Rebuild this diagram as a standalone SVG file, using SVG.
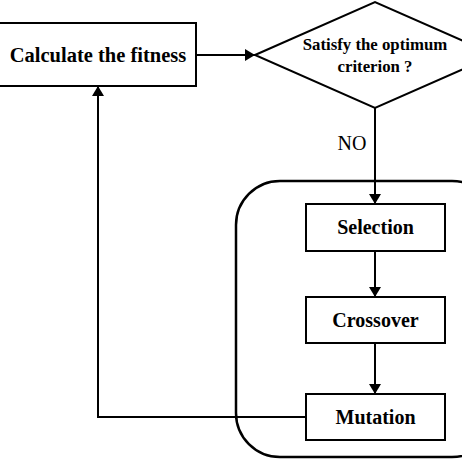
<svg xmlns="http://www.w3.org/2000/svg" width="462" height="462" viewBox="0 0 462 462">
<style>
.box{fill:#fff;stroke:#000;stroke-width:2}
.lbl{font-family:"Liberation Serif",serif;font-weight:bold;fill:#000;text-anchor:middle}
.con{fill:none;stroke:#000;stroke-width:2}
</style>
<defs>
<marker id="ah" markerWidth="10" markerHeight="12" refX="10" refY="6" orient="auto" markerUnits="userSpaceOnUse" viewBox="0 0 10 12">
<path d="M0,0 L10,6 L0,12 z" fill="#000"/>
</marker>
</defs>
<rect width="462" height="462" fill="#fff"/>
<g id="group-box">
<rect x="236" y="181" width="260" height="276" rx="44" ry="44" fill="none" stroke="#000" stroke-width="2.5"/>
</g>
<g id="connectors">
<line class="con" x1="196" y1="55" x2="255" y2="55" marker-end="url(#ah)"/>
<line class="con" x1="375" y1="108" x2="375" y2="204" marker-end="url(#ah)"/>
<line class="con" x1="375" y1="251" x2="375" y2="297" marker-end="url(#ah)"/>
<line class="con" x1="375" y1="343" x2="375" y2="394" marker-end="url(#ah)"/>
<polyline class="con" points="306,417 98,417 98,86" marker-end="url(#ah)"/>
<text x="352" y="150" font-family="Liberation Serif,serif" font-size="20" text-anchor="middle" fill="#000">NO</text>
</g>
<g id="calc">
<rect class="box" x="-5" y="23" width="201" height="63"/>
<text class="lbl" x="98" y="62" font-size="20.5">Calculate the fitness</text>
</g>
<g id="decision">
<polygon class="box" points="255,55 375,2 495,55 375,108"/>
<text class="lbl" x="375" y="50" font-size="16.8">Satisfy the optimum</text>
<text class="lbl" x="375" y="72" font-size="16.8">criterion ?</text>
</g>
<g id="selection">
<rect class="box" x="306" y="204" width="139" height="47"/>
<text class="lbl" x="375.5" y="234" font-size="20">Selection</text>
</g>
<g id="crossover">
<rect class="box" x="306" y="297" width="139" height="46"/>
<text class="lbl" x="375.5" y="327" font-size="20">Crossover</text>
</g>
<g id="mutation">
<rect class="box" x="306" y="394" width="139" height="46"/>
<text class="lbl" x="375.5" y="424" font-size="20">Mutation</text>
</g>
</svg>
